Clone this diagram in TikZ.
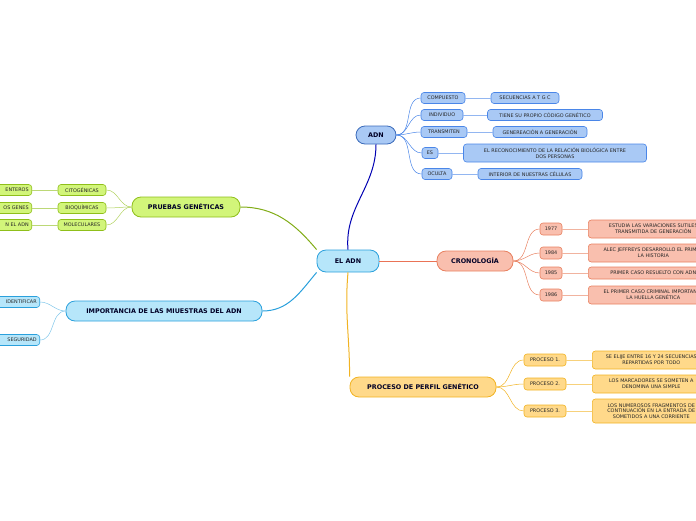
\documentclass[tikz,border=0pt]{standalone}
\usepackage{fontspec}
\setmainfont{DejaVu Sans}
\begin{document}
\begin{tikzpicture}[x=1pt,y=-1pt,
  base/.style={rounded corners=3pt,draw,line width=0.6pt,inner sep=0pt,font=\fontsize{4.9}{5.7}\selectfont,align=center,text=black!85},
  bl/.style={base,fill=blueA,draw=blueB},
  rd/.style={base,fill=redA,draw=redB},
  yl/.style={base,fill=yelA,draw=yelB},
  gr/.style={base,fill=grnA,draw=grnB},
  cy/.style={base,fill=cyA,draw=cyB},
  main/.style={rounded corners=9pt,draw,line width=0.8pt,inner sep=0pt,font=\bfseries\fontsize{6.4}{7}\selectfont,text=black!75!blue!60!black},
  lk/.style={line width=1pt}]
\definecolor{blueA}{HTML}{A9C9F5}\definecolor{blueB}{HTML}{4A86E8}
\definecolor{redA}{HTML}{F9BFAE}\definecolor{redB}{HTML}{E8805F}
\definecolor{yelA}{HTML}{FFD98A}\definecolor{yelB}{HTML}{F1B323}
\definecolor{grnA}{HTML}{D2F57A}\definecolor{grnB}{HTML}{8FBF1A}
\definecolor{cyA}{HTML}{B6E6FA}\definecolor{cyB}{HTML}{2AA0DC}
\useasboundingbox (0,0) rectangle (696,520);
\clip (0,0) rectangle (696,520);
% main nodes
\node[main,fill=cyA,draw=cyB,minimum width=62,minimum height=22] (root) at (348,261) {EL ADN};
\node[main,fill=blueA,draw=blueB!80!black,minimum width=40,minimum height=18] (adn) at (376,135) {ADN};
\node[main,fill=redA,draw=redB,minimum width=76,minimum height=20] (cro) at (475,261) {CRONOLOGÍA};
\node[main,fill=yelA,draw=yelB,minimum width=146,minimum height=20] (pro) at (423,387) {PROCESO DE PERFIL GENÉTICO};
\node[main,fill=grnA,draw=grnB,minimum width=108,minimum height=20] (pru) at (186,207) {PRUEBAS GENÉTICAS};
\node[main,fill=cyA,draw=cyB,minimum width=196,minimum height=20] (imp) at (164,311) {IMPORTANCIA DE LAS MIUESTRAS DEL ADN};
\draw[lk,draw=blue!70!black] (root.north) to[out=95,in=-90] (adn.south);
\draw[lk,draw=redB!90!red] (root.east) -- (cro.west);
\draw[lk,draw=yelB] (root.south) to[out=-95,in=90] (pro.north west);
\draw[lk,draw=grnB!90!black] (root.north west) to[out=130,in=0] (pru.east);
\draw[lk,draw=cyB] (root.south west) to[out=-130,in=0] (imp.east);
% ADN
\foreach \n/\t/\x/\y/\w in {a1/COMPUESTO/443/98/44,a2/INDIVIDUO/442/115/42,a3/TRANSMITEN/444/132/46,a4/ES/430/153/16,a5/OCULTA/437/174/30}{
  \node[bl,minimum width=\w,minimum height=11] (\n) at (\x,\y) {\t};
  \draw[blueB,line width=0.5pt] (adn.east) to[out=0,in=180] (\n.west);}
\foreach \n/\m/\t/\x/\y/\w/\h in {b1/a1/SECUENCIAS A T G C/525/98/68/11,b2/a2/TIENE SU PROPIO CÓDIGO GENÉTICO/545/115/115/11,b3/a3/GENEREACIÓN A GENERACIÓN/540/132/94/11,b4/a4/{EL RECONOCIMIENTO DE LA RELACIÓN BIOLÓGICA ENTRE\\DOS PERSONAS}/555/153/183/18,b5/a5/INTERIOR DE NUESTRAS CÉLULAS/530/174/104/11}{
  \node[bl,minimum width=\w,minimum height=\h] (\n) at (\x,\y) {\t};
  \draw[blueB!60,line width=1pt] (\m.east) -- (\n.west);}
% cronologia
\foreach \n/\t/\y/\h/\s in {c1/1977/229/18/{ESTUDIA LAS VARIACIONES SUTILES\\TRANSMITIDA DE GENERACIÓN},c2/1984/253/18/{ALEC JEFFREYS DESARROLLO EL PRIMER\\LA HISTORIA},c3/1985/273/12/{PRIMER CASO RESUELTO CON ADN},c4/1986/295/18/{EL PRIMER CASO CRIMINAL IMPORTANTE\\LA HUELLA GENÉTICA}}{
  \node[rd,minimum width=22,minimum height=12] (\n) at (551,\y) {\t};
  \draw[redB,line width=0.5pt] (cro.east) to[out=0,in=180] (\n.west);
  \node[rd,anchor=west,minimum width=130,minimum height=\h,text width=130,align=center] (\n t) at (588,\y) {\s};
  \draw[redB!60,line width=1pt] (\n.east) -- (\n t.west);}
% proceso
\foreach \n/\t/\y/\h/\s in {p1/PROCESO 1./360/18/{SE ELIJE ENTRE 16 Y 24 SECUENCIAS\\REPARTIDAS POR TODO},p2/PROCESO 2./384/18/{LOS MARCADORES SE SOMETEN A\\DENOMINA UNA SIMPLE},p3/PROCESO 3./411/24/{LOS NUMEROSOS FRAGMENTOS DE\\CONTINUACIÓN EN LA ENTRADA DE\\SOMETIDOS A UNA CORRIENTE}}{
  \node[yl,minimum width=42,minimum height=12] (\n) at (545,\y) {\t};
  \draw[yelB,line width=0.5pt] (pro.east) to[out=0,in=180] (\n.west);
  \node[yl,anchor=west,minimum width=118,minimum height=\h,text width=118,align=center] (\n t) at (592,\y) {\s};
  \draw[yelB!60,line width=1pt] (\n.east) -- (\n t.west);}
% pruebas
\foreach \n/\t/\y/\s in {g1/CITOGÉNICAS/190/ENTEROS,g2/BIOQUÍMICAS/208/OS GENES,g3/MOLECULARES/225/N EL ADN}{
  \node[gr,minimum width=48,minimum height=11] (\n) at (82,\y) {\t};
  \draw[grnB!70,line width=0.5pt] (pru.west) to[out=180,in=0] (\n.east);
  \node[gr,anchor=east,minimum height=11,inner xsep=3pt] (\n t) at (32,\y) {\hspace*{20pt}\s};
  \draw[grnB!60,line width=1pt] (\n.west) -- (\n t.east);}
% importancia
\foreach \n/\y/\s in {i1/302/IDENTIFICAR,i2/340/SEGURIDAD}{
  \node[cy,anchor=east,minimum height=11,inner xsep=3pt] (\n) at (40,\y) {\hspace*{20pt}\s};
  \draw[cyB!60,line width=0.5pt] (imp.west) to[out=180,in=0] (\n.east);}
\end{tikzpicture}
\end{document}
